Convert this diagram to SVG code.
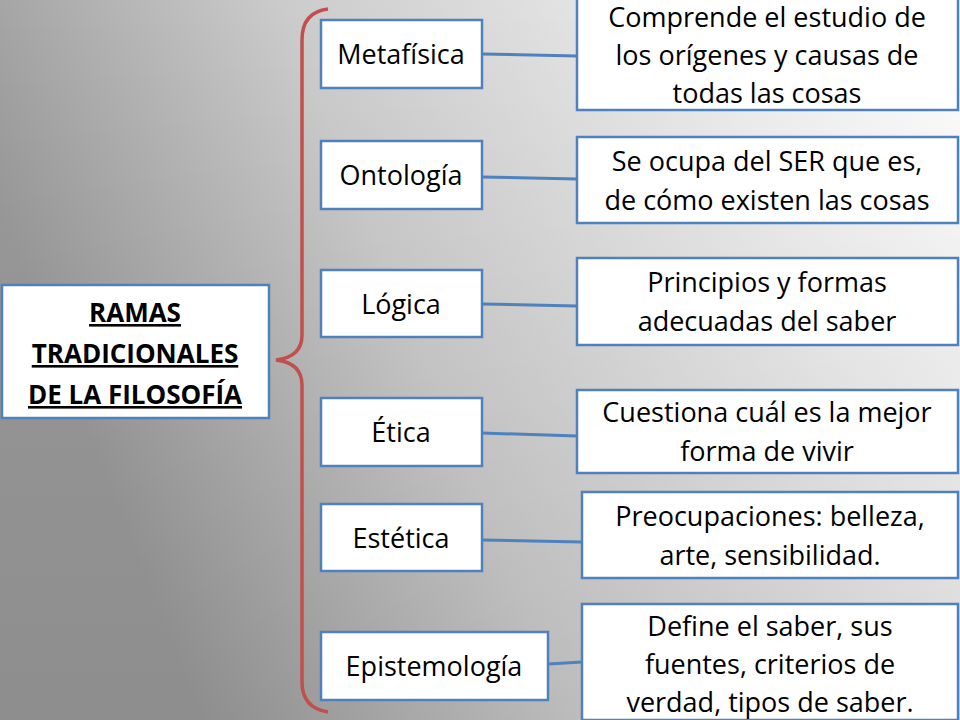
<svg xmlns="http://www.w3.org/2000/svg" width="960" height="720" viewBox="0 0 960 720">
<defs>
<linearGradient id="bg" x1="0" y1="0.3" x2="1" y2="0">
<stop offset="0" stop-color="#9a9a9a"/><stop offset="0.35" stop-color="#cbcbcb"/><stop offset="0.75" stop-color="#ededed"/><stop offset="1" stop-color="#ffffff"/>
</linearGradient>
<linearGradient id="bg2" x1="0" y1="0" x2="0" y2="1">
<stop offset="0" stop-color="#000" stop-opacity="0"/><stop offset="1" stop-color="#000" stop-opacity="0.08"/>
</linearGradient>
<style>
.box{fill:#fff;stroke:#4f81bd;stroke-width:2.5}
.t{font-family:"Open Sans","Liberation Sans",sans-serif;font-size:27px;fill:#000;text-anchor:middle}
.c{stroke:#4f81bd;stroke-width:3;fill:none}
</style>
</defs>
<rect width="960" height="720" fill="url(#bg)"/>
<rect width="960" height="720" fill="url(#bg2)"/>
<path d="M328,9 Q302,12 302,40 L302,335 Q302,357 276,360 Q302,363 302,385 L302,682 Q302,708 328,712" fill="none" stroke="#c0504d" stroke-width="3.5"/>
<g id="connectors">
<line class="c" x1="482" y1="54" x2="577" y2="56"/>
<line class="c" x1="482" y1="177" x2="577" y2="179"/>
<line class="c" x1="482" y1="304" x2="577" y2="306"/>
<line class="c" x1="482" y1="433" x2="577" y2="436"/>
<line class="c" x1="482" y1="540" x2="582" y2="542"/>
<line class="c" x1="548" y1="664" x2="582" y2="662"/>
</g>
<g id="main"><rect class="box" x="2" y="285" width="267" height="133"/>
<text class="t" font-weight="bold" text-decoration="underline" x="135" y="322" style="font-size:26px">RAMAS</text>
<text class="t" font-weight="bold" text-decoration="underline" x="135" y="363" style="font-size:26px">TRADICIONALES</text>
<text class="t" font-weight="bold" text-decoration="underline" x="135" y="404" style="font-size:26px">DE LA FILOSOFÍA</text></g>
<g id="metafisica"><rect class="box" x="321" y="20" width="161" height="68"/><text class="t" x="401" y="64">Metafísica</text></g>
<g id="ontologia"><rect class="box" x="321" y="141" width="161" height="68"/><text class="t" x="401" y="185">Ontología</text></g>
<g id="logica"><rect class="box" x="321" y="270" width="161" height="67"/><text class="t" x="401" y="314">Lógica</text></g>
<g id="etica"><rect class="box" x="321" y="398" width="161" height="68"/><text class="t" x="401" y="442">Ética</text></g>
<g id="estetica"><rect class="box" x="321" y="504" width="161" height="67"/><text class="t" x="401" y="548">Estética</text></g>
<g id="epistemologia"><rect class="box" x="321" y="632" width="227" height="68"/><text class="t" x="434" y="676">Epistemología</text></g>
<g id="d1"><rect class="box" x="577" y="-2" width="381" height="112"/>
<text class="t" x="767" y="27">Comprende el estudio de</text><text class="t" x="767" y="65">los orígenes y causas de</text><text class="t" x="767" y="103">todas las cosas</text></g>
<g id="d2"><rect class="box" x="577" y="137" width="381" height="86"/>
<text class="t" x="767" y="171">Se ocupa del SER que es,</text><text class="t" x="767" y="210">de cómo existen las cosas</text></g>
<g id="d3"><rect class="box" x="577" y="258" width="381" height="87"/>
<text class="t" x="767" y="292">Principios y formas</text><text class="t" x="767" y="331">adecuadas del saber</text></g>
<g id="d4"><rect class="box" x="577" y="390" width="381" height="83"/>
<text class="t" x="767" y="422">Cuestiona cuál es la mejor</text><text class="t" x="767" y="461">forma de vivir</text></g>
<g id="d5"><rect class="box" x="582" y="492" width="376" height="86"/>
<text class="t" x="770" y="526">Preocupaciones:  belleza,</text><text class="t" x="770" y="565">arte, sensibilidad.</text></g>
<g id="d6"><rect class="box" x="582" y="604" width="376" height="116"/>
<text class="t" x="770" y="636">Define el saber, sus</text><text class="t" x="770" y="674">fuentes, criterios de</text><text class="t" x="770" y="712">verdad, tipos de saber.</text></g>
</svg>
